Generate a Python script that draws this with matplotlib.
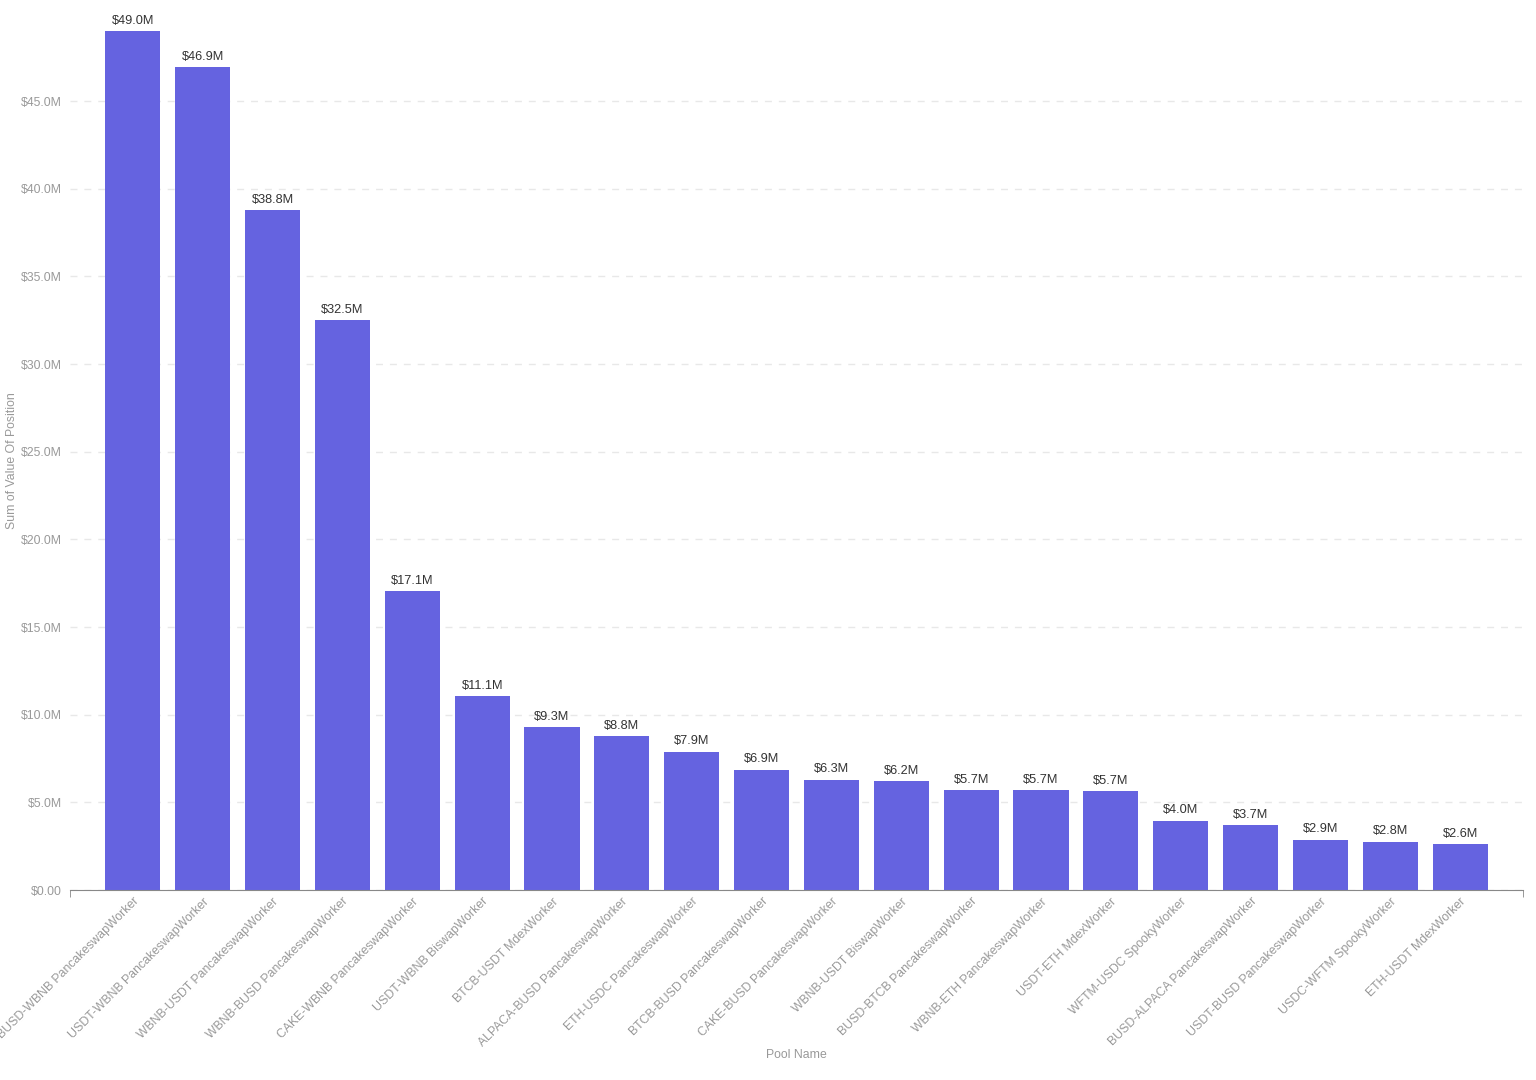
import matplotlib
matplotlib.use("Agg")
import matplotlib.pyplot as plt
from matplotlib.ticker import FuncFormatter, MultipleLocator

plt.rcParams["font.family"] = ["Liberation Sans", "DejaVu Sans"]

pools = [
    "BUSD-WBNB PancakeswapWorker",
    "USDT-WBNB PancakeswapWorker",
    "WBNB-USDT PancakeswapWorker",
    "WBNB-BUSD PancakeswapWorker",
    "CAKE-WBNB PancakeswapWorker",
    "USDT-WBNB BiswapWorker",
    "BTCB-USDT MdexWorker",
    "ALPACA-BUSD PancakeswapWorker",
    "ETH-USDC PancakeswapWorker",
    "BTCB-BUSD PancakeswapWorker",
    "CAKE-BUSD PancakeswapWorker",
    "WBNB-USDT BiswapWorker",
    "BUSD-BTCB PancakeswapWorker",
    "WBNB-ETH PancakeswapWorker",
    "USDT-ETH MdexWorker",
    "WFTM-USDC SpookyWorker",
    "BUSD-ALPACA PancakeswapWorker",
    "USDT-BUSD PancakeswapWorker",
    "USDC-WFTM SpookyWorker",
    "ETH-USDT MdexWorker",
]
# value of position, millions of USD
values_m = [49.0, 46.94, 38.78, 32.5, 17.06, 11.08, 9.27, 8.76, 7.9, 6.87,
            6.3, 6.2, 5.69, 5.68, 5.65, 3.96, 3.68, 2.88, 2.76, 2.6]

BAR = "#6563e0"
GREY = "#999999"

fig = plt.figure(figsize=(15.36, 10.8), dpi=100)
ax = fig.add_axes([70 / 1536, 190 / 1080, 1453 / 1536, 859 / 1080])

x = list(range(len(pools)))
bars = ax.bar(x, values_m, width=0.79, color=BAR, zorder=2)

for b, v in zip(bars, values_m):
    ax.annotate(f"${v:.1f}M", (b.get_x() + b.get_width() / 2, v),
                xytext=(0, 3), textcoords="offset points",
                ha="center", va="bottom", fontsize=9.2, color="#333333",
                annotation_clip=False)

ax.set_xlim(-0.9, len(pools) - 0.1)
ax.set_ylim(0, 49.0)
ax.yaxis.set_major_locator(MultipleLocator(5))
ax.yaxis.set_major_formatter(FuncFormatter(
    lambda v, _: "$0.00" if v == 0 else f"${v:.1f}M"))

ax.grid(axis="y", color="#e8e8e8", linestyle=(0, (5, 5)), linewidth=1, zorder=0)
ax.set_axisbelow(True)
for s in ("left", "right", "top"):
    ax.spines[s].set_visible(False)
ax.spines["bottom"].set_color("#888888")

ax.tick_params(axis="y", length=0, pad=6, labelsize=8.8, labelcolor=GREY)
ax.set_xticks(x)
ax.set_xticklabels(pools, rotation=45, ha="right", rotation_mode="anchor",
                   fontsize=8.8, color=GREY)
ax.tick_params(axis="x", length=0, pad=4)
ax.set_xticks([-0.9, len(pools) - 0.1], minor=True)
ax.tick_params(axis="x", which="minor", length=5, color="#888888")

ax.set_ylabel("Sum of Value Of Position", fontsize=8.8, color=GREY)
ax.yaxis.set_label_coords(-0.0358, 0.5)
ax.set_xlabel("Pool Name", fontsize=8.8, color=GREY)
ax.xaxis.set_label_coords(0.5, -0.185)

fig.savefig("out.png", dpi=100)
